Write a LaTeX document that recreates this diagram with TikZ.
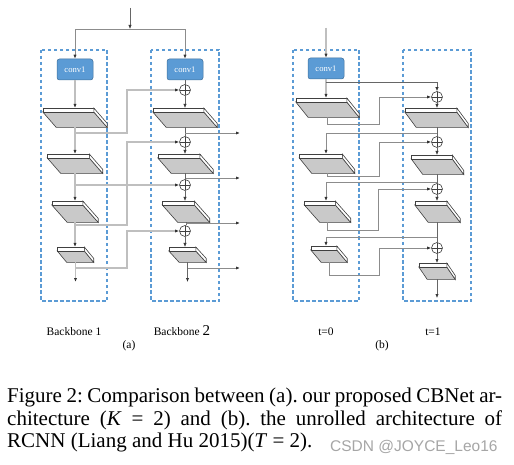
\documentclass[tikz,border=0pt]{standalone}
\usepackage{fontspec}
\setmainfont{Liberation Serif}
\newfontfamily\wmfont{Liberation Sans}
\usepackage{tikz}
\usetikzlibrary{positioning}
\usetikzlibrary{arrows.meta}
\frenchspacing

\definecolor{convblue}{HTML}{5B9BD5}
\definecolor{convedge}{HTML}{41719C}
\definecolor{boxblue}{HTML}{5B9BD5}
\definecolor{slabgray}{HTML}{C9C9C9}

% name, centre x, top y, front width, slant, height
\newcommand{\slab}[6]{%
	\node [inner sep=0pt, minimum width=#4pt+#5pt, minimum height=#6pt, anchor=north] (#1) at (#2,#3) {};
	\draw [slabedge, fill=slabgray] ([yshift=-4pt]#1.north west) -- ++(#4,0) -- (#1.south east) -- ++(-#4,0) -- cycle;
	\draw [slabedge, fill=white] (#1.north west) rectangle ++(#4,4);
	\draw [slabedge, fill=white] ([xshift=#4pt]#1.north west) -- ([yshift=4pt]#1.south east) -- (#1.south east) -- ([xshift=#4pt,yshift=-4pt]#1.north west) -- cycle;
}

\begin{document}
\begin{tikzpicture}[x=1pt,y=-1pt,
	slabedge/.style={draw=black!75, line width=0.6pt},
	conv/.style={rectangle, rounded corners=2.5pt, fill=convblue, draw=convedge, line width=0.5pt, minimum width=36pt, minimum height=21pt, inner sep=0pt, text=white, font=\fontsize{8.6}{10}\selectfont},
	sumnode/.style={circle, draw=black!75, line width=0.6pt, fill=white, minimum size=11pt, inner sep=0pt,
		path picture={\draw [black!75, line width=0.6pt] (path picture bounding box.north) -- (path picture bounding box.south) (path picture bounding box.west) -- (path picture bounding box.east);}},
	dashbox/.style={draw=boxblue, line width=1.2pt, dash pattern=on 3.5pt off 2.5pt},
	litewire/.style={draw=black!25, line width=1.3pt},
	midwire/.style={draw=black!45, line width=0.8pt},
	darkwire/.style={draw=black!60, line width=0.6pt},
	arrowed/.style={-{Latex[length=4pt,width=3.2pt,color=black!80]}},
	lbl/.style={inner sep=0pt, anchor=base, font=\fontsize{11.5}{13}\selectfont},
	captext/.style={inner sep=0pt, anchor=base west, font=\fontsize{21}{24}\selectfont},
	wmark/.style={inner sep=0pt, anchor=base west, text=black!35, font=\wmfont\fontsize{15.5}{18}\selectfont}]
	\useasboundingbox [fill=white] (0,0) rectangle (514,465);

	\draw [dashbox] (41,50) rectangle (107,301);
	\draw [dashbox] (151,50) rectangle (219,301);
	\draw [dashbox] (293,50) rectangle (359,301);
	\draw [dashbox] (403,50) rectangle (471,301);

	\node [conv] (cva) at (75,69.5) {conv1};
	\node [conv] (cvb) at (185,69.5) {conv1};
	\node [conv] (cvc) at (326,68.5) {conv1};

	\slab{la1}{75}{108}{51}{13}{19}
	\slab{la2}{75}{154}{42}{13}{19}
	\slab{la3}{75}{201}{31}{15}{21}
	\slab{la4}{75.5}{247}{27}{9}{15}
	\slab{ra1}{185}{108}{51}{13}{19}
	\slab{ra2}{185.5}{154}{42}{13}{19}
	\slab{ra3}{186}{201}{32}{15}{21}
	\slab{ra4}{187.5}{247}{27}{10}{15}
	\slab{lb1}{327.5}{98}{51}{12}{19}
	\slab{lb2}{327}{154}{43}{12}{19}
	\slab{lb3}{327.5}{201}{31}{15}{21}
	\slab{lb4}{329}{246}{26}{10}{16}
	\slab{rb1}{436.5}{108}{52}{11}{19}
	\slab{rb2}{437.5}{155}{41}{11}{19}
	\slab{rb3}{437.5}{201}{32}{13}{21}
	\slab{rb4}{437}{263}{28}{8}{16}

	\node [sumnode] (sa1) at (185,90) {};
	\node [sumnode] (sa2) at (185,142) {};
	\node [sumnode] (sa3) at (185,185) {};
	\node [sumnode] (sa4) at (185,231) {};
	\node [sumnode] (sb1) at (437,97) {};
	\node [sumnode] (sb2) at (437,142) {};
	\node [sumnode] (sb3) at (437,189) {};
	\node [sumnode] (sb4) at (437,248) {};

	\coordinate (topa) at (130,8);
	\coordinate (splita) at (130,29);
	\coordinate (enda) at (75,282);
	\coordinate (endb) at (187.5,282);
	\coordinate (ja1) at (127,133);
	\coordinate (ja3) at (127,225);
	\coordinate (ja4) at (127,268);
	\coordinate (oa1) at (240,133);
	\coordinate (oa2) at (240,178);
	\coordinate (oa3) at (240,223);
	\coordinate (oa4) at (240,268);

	\draw [darkwire, arrowed] (topa) -- (splita);
	\draw [midwire, arrowed] (splita) -| (cva);
	\draw [midwire, arrowed] (splita) -| (cvb);

	\draw [litewire, arrowed] (cva) -- (la1);
	\draw [litewire, arrowed] (la1) -- (la2);
	\draw [litewire, arrowed] (la2) -- (la3);
	\draw [litewire, arrowed] (la3.south) -- (la3.south |- la4.north);
	\draw [litewire, arrowed] (la4.south) -- (la4.south |- enda);

	\draw [litewire, arrowed] (la1.south |- ja1) -- (ja1) |- (sa1);
	\draw [litewire, arrowed] (la2.south |- sa3) -- (sa3);
	\draw [litewire, arrowed] (la3.south |- ja3) -- (ja3) |- (sa2);
	\draw [litewire, arrowed] (la4.south |- ja4) -- (ja4) |- (sa4);

	\draw [darkwire] (cvb) -- (sa1);
	\draw [darkwire, arrowed] (sa1) -- (sa1 |- ra1.north);
	\draw [darkwire] (ra1.south) -- (ra1.south |- sa2.north);
	\draw [darkwire, arrowed] (sa2) -- (sa2 |- ra2.north);
	\draw [darkwire] (ra2.south) -- (ra2.south |- sa3.north);
	\draw [darkwire, arrowed] (sa3) -- (sa3 |- ra3.north);
	\draw [darkwire] (ra3.south) -- (ra3.south |- sa4.north);
	\draw [darkwire, arrowed] (sa4) -- (sa4 |- ra4.north);
	\draw [darkwire, arrowed] (ra4.south) -- (endb);

	\draw [midwire, arrowed] (ra1.south |- oa1) -- (oa1);
	\draw [midwire, arrowed] (ra2.south |- oa2) -- (oa2);
	\draw [midwire, arrowed] (ra3.south |- oa3) -- (oa3);
	\draw [midwire, arrowed] (ra4.south |- oa4) -- (oa4);

	\coordinate (topb) at (326,28);
	\coordinate (splitb) at (326,82);
	\coordinate (endc) at (437,298);
	\coordinate (jb1) at (379,124);
	\coordinate (jb2) at (379,176);
	\coordinate (jb3) at (378,230);
	\coordinate (jb4) at (379,275);
	\coordinate (fb1) at (326,133);
	\coordinate (fb2) at (326,182);
	\coordinate (fb3) at (326,237);

	\draw [litewire, arrowed] (topb) -- (cvc);
	\draw [litewire, arrowed] (cvc) -- (cvc |- lb1.north);
	\draw [darkwire, arrowed] (splitb) -| (sb1);

	\draw [midwire, arrowed] (lb1.south) |- (jb1) |- (sb1);
	\draw [midwire, arrowed] (lb2.south) |- (jb2) |- (sb2);
	\draw [midwire, arrowed] (lb3.south) |- (jb3) |- (sb3);
	\draw [midwire, arrowed] (lb4.south) |- (jb4) |- (sb4);

	\draw [midwire, arrowed] (sb2 |- fb1) -- (fb1) -- (fb1 |- lb2.north);
	\draw [midwire, arrowed] (sb3 |- fb2) -- (fb2) -- (fb2 |- lb3.north);
	\draw [midwire, arrowed] (sb4 |- fb3) -- (fb3) -- (fb3 |- lb4.north);

	\draw [darkwire, arrowed] (sb1) -- (sb1 |- rb1.north);
	\draw [darkwire] (sb1 |- rb1.south) -- (sb2);
	\draw [darkwire, arrowed] (sb2) -- (sb2 |- rb2.north);
	\draw [darkwire] (sb2 |- rb2.south) -- (sb3);
	\draw [darkwire, arrowed] (sb3) -- (sb3 |- rb3.north);
	\draw [darkwire] (sb3 |- rb3.south) -- (sb4);
	\draw [darkwire, arrowed] (sb4) -- (sb4 |- rb4.north);
	\draw [darkwire, arrowed] (sb4 |- rb4.south) -- (endc);

	\node [lbl] (bbone1) at (74,335) {Backbone 1};
	\node [lbl] (bbone2) at (182,335) {Backbone {\fontsize{15}{15}\selectfont 2}};
	\node [lbl] (parta) at (129,348) {(a)};
	\node [lbl] (tzero) at (326,335) {t=0};
	\node [lbl] (tone) at (433,335) {t=1};
	\node [lbl] (partb) at (382,348) {(b)};

	\node [captext] (line1) at (7,402) {\makebox[495pt][s]{Figure 2: Comparison between (a). our proposed CBNet ar-}};
	\node [captext] (line2) at (7,425) {\makebox[495pt][s]{chitecture (\textit{K} = 2) and (b). the unrolled architecture of}};
	\node [captext] (line3) at (7,447) {RCNN (Liang and Hu 2015)(\textit{T} = 2).};
	\node [wmark] (stamp) at (330,451) {CSDN @JOYCE\_Leo16};
\end{tikzpicture}
\end{document}
